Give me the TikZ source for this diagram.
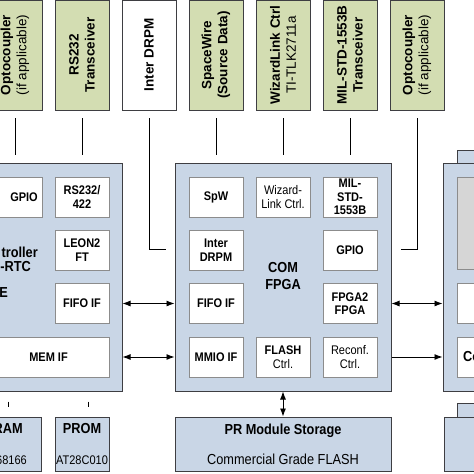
\documentclass[tikz,border=0pt]{standalone}
\usepackage{fontspec}
\setmainfont{Liberation Sans}
\newfontfamily\hfont[FakeStretch=0.88]{Liberation Sans}
\usetikzlibrary{positioning,calc,arrows.meta}
\definecolor{blkfill}{RGB}{201,214,230}
\definecolor{extgreen}{RGB}{211,221,178}
\definecolor{edgegray}{RGB}{62,62,66}
\definecolor{unitgray}{RGB}{140,140,140}
\definecolor{padgray}{RGB}{214,214,214}

\begin{document}
\begin{tikzpicture}[x=1pt,y=1pt]
	\tikzstyle{every node}+=[inner sep=0pt]
	\tikzstyle{ext}=[draw=edgegray, fill=extgreen, line width=0.9pt, minimum width=110pt, minimum height=54pt, rotate=90, align=center, font=\fontsize{13.5}{16}\selectfont]
	\tikzstyle{block}=[draw=edgegray, fill=blkfill, line width=1pt]
	\tikzstyle{unit}=[draw=unitgray, fill=white, line width=0.8pt, minimum width=54pt, minimum height=40pt, align=center, font=\hfont\fontsize{12.5}{13.5}\selectfont\bfseries]
	\tikzstyle{ttl}=[align=center, font=\hfont\fontsize{14.5}{17}\selectfont\bfseries]
	\tikzstyle{sub}=[font=\hfont\fontsize{12.5}{15}\selectfont]
	\tikzstyle{link}=[black, line width=0.9pt]
	\tikzstyle{bus}=[black, line width=0.9pt, {Latex[length=8pt,width=6pt]}-{Latex[length=8pt,width=6pt]}]
	\useasboundingbox (0,0) rectangle (474,-474);
	\clip (0,0) rectangle (474,-474);
	\fill [white] (0,0) rectangle (474,-474);
	\node [ext] (opto1) at (15,-55) {{\bfseries Optocoupler}\\(if applicable)};
	\node [ext, font=\fontsize{13.5}{16}\selectfont\bfseries] (rs) at (82,-55) {RS232\\Transceiver};
	\node [ext, fill=white, font=\fontsize{13.5}{16}\selectfont\bfseries] (xdrpm) at (149,-55) {Inter DRPM};
	\node [ext, font=\fontsize{13.5}{16}\selectfont\bfseries] (spw) at (216,-55) {SpaceWire\\(Source Data)};
	\node [ext] (wiz) at (283,-55) {{\bfseries WizardLink Ctrl}\\TI-TLK2711a};
	\node [ext, font=\fontsize{13.5}{16}\selectfont\bfseries] (mil) at (350,-55) {MIL-STD-1553B\\Transceiver};
	\node [ext] (opto2) at (417,-55) {{\bfseries Optocoupler}\\(if applicable)};
	\node [block, minimum width=222pt, minimum height=228pt] (lctrl) at (11,-277) {};
	\node [block, minimum width=216pt, minimum height=228pt] (com) at (283,-277) {};
	\node [block, minimum width=103pt, minimum height=14pt] (rtab) at (508.5,-157) {};
	\node [block, minimum width=157pt, minimum height=228pt] (rblk) at (521.5,-277) {};
	\node [block, minimum width=141pt, minimum height=54pt] (ram) at (-29.5,-444) {};
	\node [block, minimum width=54pt, minimum height=54pt] (prom) at (82,-444) {};
	\node [block, minimum width=216pt, minimum height=54pt] (prstore) at (283,-444) {};
	\node [block, minimum width=103pt, minimum height=14pt] (btab) at (508.5,-410) {};
	\node [block, minimum width=156pt, minimum height=54pt] (rbot) at (522,-444) {};
	\node [unit] (lgpio) at (15,-197) {};
	\node [unit] (lrs) at (82,-197) {RS232/\\422};
	\node [unit] (lleon) at (82,-250) {LEON2\\FT};
	\node [unit] (lfifo) at (82,-303.5) {FIFO IF};
	\node [unit, minimum width=121pt] (lmem) at (48.5,-357) {MEM IF};
	\node [font=\hfont\fontsize{12.5}{13.5}\selectfont\bfseries, anchor=east] (gpiotxt) at (38,-197) {GPIO};
	\node [ttl, anchor=east] (lt1) at (38,-252) {troller};
	\node [ttl, anchor=east] (lt2) at (31,-267) {-RTC};
	\node [ttl, anchor=east] (lt3) at (8,-293) {E};
	\node [unit] (cspw) at (216,-197) {SpW};
	\node [unit, font=\hfont\fontsize{12.5}{13.5}\selectfont] (cwiz) at (283,-197) {Wizard-\\Link Ctrl.};
	\node [unit] (cmil) at (350,-197) {MIL-\\STD-\\1553B};
	\node [unit] (cdrpm) at (216,-250) {Inter\\DRPM};
	\node [unit] (cgpio) at (350,-250) {GPIO};
	\node [unit] (cfifo) at (216,-303.5) {FIFO IF};
	\node [unit] (cfpga2) at (350,-303.5) {FPGA2\\FPGA};
	\node [unit] (cmmio) at (216,-357) {MMIO IF};
	\node [unit] (cflash) at (283,-357) {FLASH\\{\mdseries Ctrl.}};
	\node [unit, font=\hfont\fontsize{12.5}{13.5}\selectfont] (creconf) at (350,-357) {Reconf.\\Ctrl.};
	\node [ttl] (comtxt) at (283,-276) {COM\\FPGA};
	\node [unit, fill=padgray, minimum width=103pt, minimum height=92pt] (rpad) at (508.5,-223) {};
	\node [unit, minimum width=103pt] (rw1) at (508.5,-303.5) {};
	\node [unit, minimum width=103pt] (rw2) at (508.5,-357) {};
	\node [ttl, anchor=west] (rwtxt) at (463,-357) {Co};
	\node [ttl, anchor=east] (ramttl) at (23,-429) {RAM};
	\node [sub, anchor=east] (ramsub) at (27,-460) {68166};
	\node [ttl, below=7pt of prom.north] (promttl) {PROM};
	\node [sub, above=6.5pt of prom.south] (promsub) {AT28C010};
	\node [ttl, below=7pt of prstore.north] (prttl) {PR Module Storage};
	\node [sub, font=\hfont\fontsize{14.5}{16}\selectfont, above=6.5pt of prstore.south] (prsub) {Commercial Grade FLASH};
	\draw [link] ($(opto1.west)+(0,-8)$) -- ($(opto1.west |- lctrl.north)+(0,8)$);
	\draw [link] ($(rs.west)+(0,-8)$) -- ($(rs.west |- lctrl.north)+(0,8)$);
	\draw [link] ($(spw.west)+(0,-8)$) -- ($(spw.west |- com.north)+(0,8)$);
	\draw [link] ($(wiz.west)+(0,-8)$) -- ($(wiz.west |- com.north)+(0,8)$);
	\draw [link] ($(mil.west)+(0,-8)$) -- ($(mil.west |- com.north)+(0,8)$);
	\draw [link] ($(xdrpm.west)+(0,-8)$) |- ($(cdrpm -| com.west)+(-9,1)$);
	\draw [link] ($(opto2.west)+(0,-8)$) |- ($(cgpio -| com.east)+(9,1)$);
	\draw [bus] (lfifo -| lctrl.east) -- (lfifo -| com.west);
	\draw [bus] (lmem -| lctrl.east) -- (lmem -| com.west);
	\draw [bus] (cfpga2 -| com.east) -- (cfpga2 -| rblk.west);
	\draw [link, -{Latex[length=8pt,width=6pt]}] (creconf -| com.east) -- (creconf -| rblk.west);
	\draw [bus] (cflash |- com.south) -- (cflash |- prstore.north);
	\draw [link, line width=0.7pt] ($(lctrl.south -| lgpio)+(-7,-10)$) -- ($(ram.north -| lgpio)+(-7,10)$);
	\draw [link, line width=0.7pt] ($(lctrl.south -| prom)+(6,-10)$) -- ($(prom.north)+(6,10)$);
\end{tikzpicture}
\end{document}
